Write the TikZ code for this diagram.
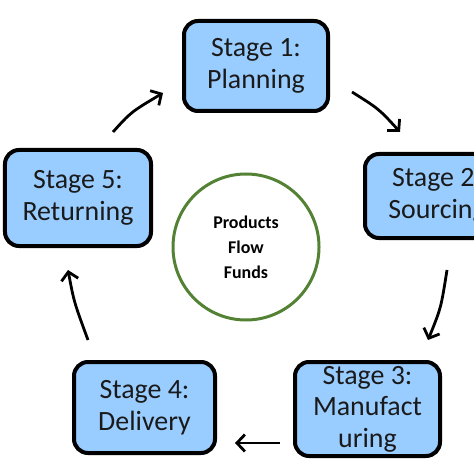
\documentclass[tikz,border=0pt]{standalone}
\usepackage{fontspec}
\setmainfont{Carlito}
\usetikzlibrary{arrows.meta}
\definecolor{boxblue}{RGB}{153,204,255}
\definecolor{ringgreen}{RGB}{84,130,53}
\definecolor{txt}{RGB}{26,26,26}
\begin{document}
\begin{tikzpicture}[x=1bp,y=-1bp,
  stagebox/.style={draw=black,fill=boxblue,line width=4bp,rounded corners=14bp,
    align=center,text=txt,inner sep=0pt,font=\fontsize{28}{31.5}\selectfont},
  flowarrow/.style={line width=2.8bp,-{Straight Barb[length=8bp,width=17bp]}}]
\useasboundingbox (0,0) rectangle (474,474);
\clip (0,0) rectangle (474,474);
\node[stagebox,minimum width=144bp,minimum height=90bp] (s1) at (256,66) {Stage 1:\\Planning};
\node[stagebox,minimum width=144bp,minimum height=84bp] (s2) at (437,196) {Stage 2:\\Sourcing};
\node[stagebox,minimum width=145bp,minimum height=94bp] (s3) at (367.5,409) {Stage 3:\\Manufact\\uring};
\node[stagebox,minimum width=141bp,minimum height=91bp] (s4) at (144.5,407.5) {Stage 4:\\Delivery};
\node[stagebox,minimum width=146bp,minimum height=96bp] (s5) at (78,198) {Stage 5:\\Returning};
\node[draw=ringgreen,line width=3bp,circle,minimum size=146bp,inner sep=0pt,align=center,
  font=\bfseries\fontsize{18}{25}\selectfont] (c) at (246,247) {Products\\Flow\\Funds};
\coordinate (a1s) at (113,132); \coordinate (a1e) at (163,93);
\coordinate (a2s) at (352,92); \coordinate (a2e) at (400,132);
\coordinate (a3s) at (447,270); \coordinate (a3e) at (428,340);
\coordinate (a4s) at (280,443); \coordinate (a4e) at (235,443);
\coordinate (a5s) at (88,340); \coordinate (a5e) at (68,270);
\draw[flowarrow] (a1s) .. controls (131,112) .. (a1e);
\draw[flowarrow] (a2s) .. controls (379,109) .. (a2e);
\draw[flowarrow] (a3s) .. controls (441,308) .. (a3e);
\draw[flowarrow] (a4s) -- (a4e);
\draw[flowarrow] (a5s) .. controls (74,302) .. (a5e);
\end{tikzpicture}
\end{document}
